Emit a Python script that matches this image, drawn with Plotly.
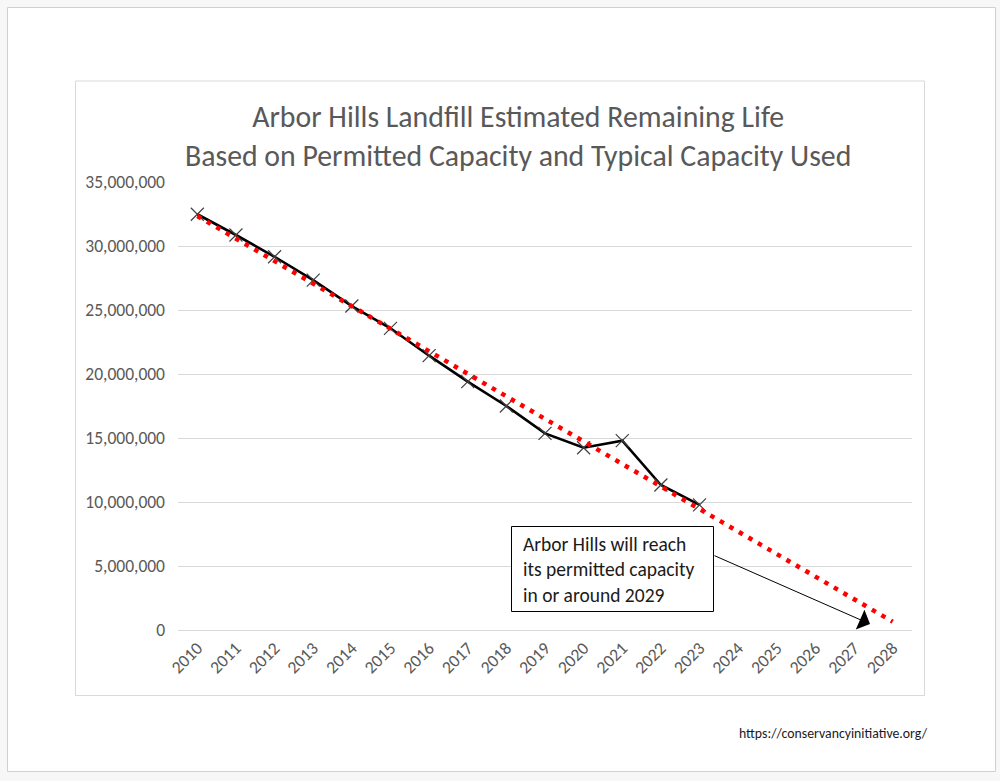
import plotly.graph_objects as go

# ---- data ----
years = [str(y) for y in range(2010, 2029)]
data_years = [str(y) for y in range(2010, 2024)]
remaining = [32480000, 30860000, 29160000, 27340000, 25310000, 23570000, 21430000,
             19400000, 17500000, 15360000, 14240000, 14790000, 11330000, 9770000]
trend_years = ["2010", "2028"]
trend_values = [32340000, 650000]

title_lines = ["Arbor Hills Landfill Estimated Remaining Life",
               "Based on Permitted Capacity and Typical Capacity Used"]
note_lines = ["Arbor Hills will reach", "its permitted capacity", "in or around 2029"]
source_text = "https://conservancyinitiative.org/"

FONT = "Carlito, Lato, sans-serif"
W, H = 1000, 781
L, R, T, B = 178, 912, 182, 630  # plot area in pixels


def px(x):
    return (x - L) / (R - L)


def py(y):
    return (B - y) / (B - T)


fig = go.Figure()
fig.add_trace(go.Scatter(
    x=data_years, y=remaining, mode="lines+markers",
    line=dict(color="black", width=2.6),
    marker=dict(symbol="x-thin", size=13, line=dict(color="#404040", width=1.2)),
    showlegend=False, hoverinfo="x+y"))
fig.add_trace(go.Scatter(
    x=trend_years, y=trend_values, mode="lines",
    line=dict(color="#ff0000", width=4.5, dash="4.5px,6.5px"),
    showlegend=False, hoverinfo="skip"))

shapes = [
    dict(type="rect", xref="paper", yref="paper", x0=px(7.5), x1=px(995.5), y0=py(771.5), y1=py(7.5),
         fillcolor="white", line=dict(color="#d0d0d0", width=1), layer="below"),
    dict(type="rect", xref="paper", yref="paper", x0=px(75.5), x1=px(924.5), y0=py(695.5), y1=py(81),
         fillcolor="white", line=dict(color="#d9d9d9", width=1), layer="below"),
    dict(type="rect", xref="paper", yref="paper", x0=px(511.5), x1=px(713.5), y0=py(611.5), y1=py(526.5),
         fillcolor="white", line=dict(color="black", width=1), layer="above"),
]

annotations = [
    dict(text="<br>".join(title_lines), xref="paper", yref="paper", x=px(518), y=py(136),
         xanchor="center", yanchor="middle", showarrow=False,
         font=dict(family=FONT, size=29.8, color="#595959")),
    dict(text="<br>".join(note_lines), xref="paper", yref="paper", x=px(521), y=py(569),
         xanchor="left", yanchor="middle", align="left", showarrow=False,
         font=dict(family=FONT, size=19.5, color="#1a1a1a")),
    dict(text="", xref="paper", yref="paper", x=px(870), y=py(624),
         ax=713 - 870, ay=555 - 624, showarrow=True, arrowhead=1, arrowsize=3.6,
         arrowwidth=1, arrowcolor="black"),
    dict(text=source_text, xref="paper", yref="paper", x=px(930), y=py(733),
         xanchor="right", yanchor="middle", showarrow=False,
         font=dict(family=FONT, size=13.8, color="#1a1a1a")),
]

fig.update_layout(
    width=W, height=H,
    margin=dict(l=L, r=W - R, t=T, b=H - B, pad=0),
    paper_bgcolor="#f7f7f7", plot_bgcolor="rgba(0,0,0,0)",
    shapes=shapes, annotations=annotations,
    xaxis=dict(type="category", categoryorder="array", categoryarray=years,
               range=[-0.5, len(years) - 0.5], tickangle=-45, showgrid=False,
               showline=True, linecolor="#d9d9d9", linewidth=1, ticks="",
               tickfont=dict(family=FONT, size=17.5, color="#595959")),
    yaxis=dict(range=[0, 35000000], dtick=5000000, tickformat=",d", showgrid=True,
               gridcolor="#d9d9d9", gridwidth=1, zeroline=False, showline=False, ticks="",
               ticklabelstandoff=12,
               tickfont=dict(family=FONT, size=17.5, color="#595959")),
)

fig.write_html("out.html")
